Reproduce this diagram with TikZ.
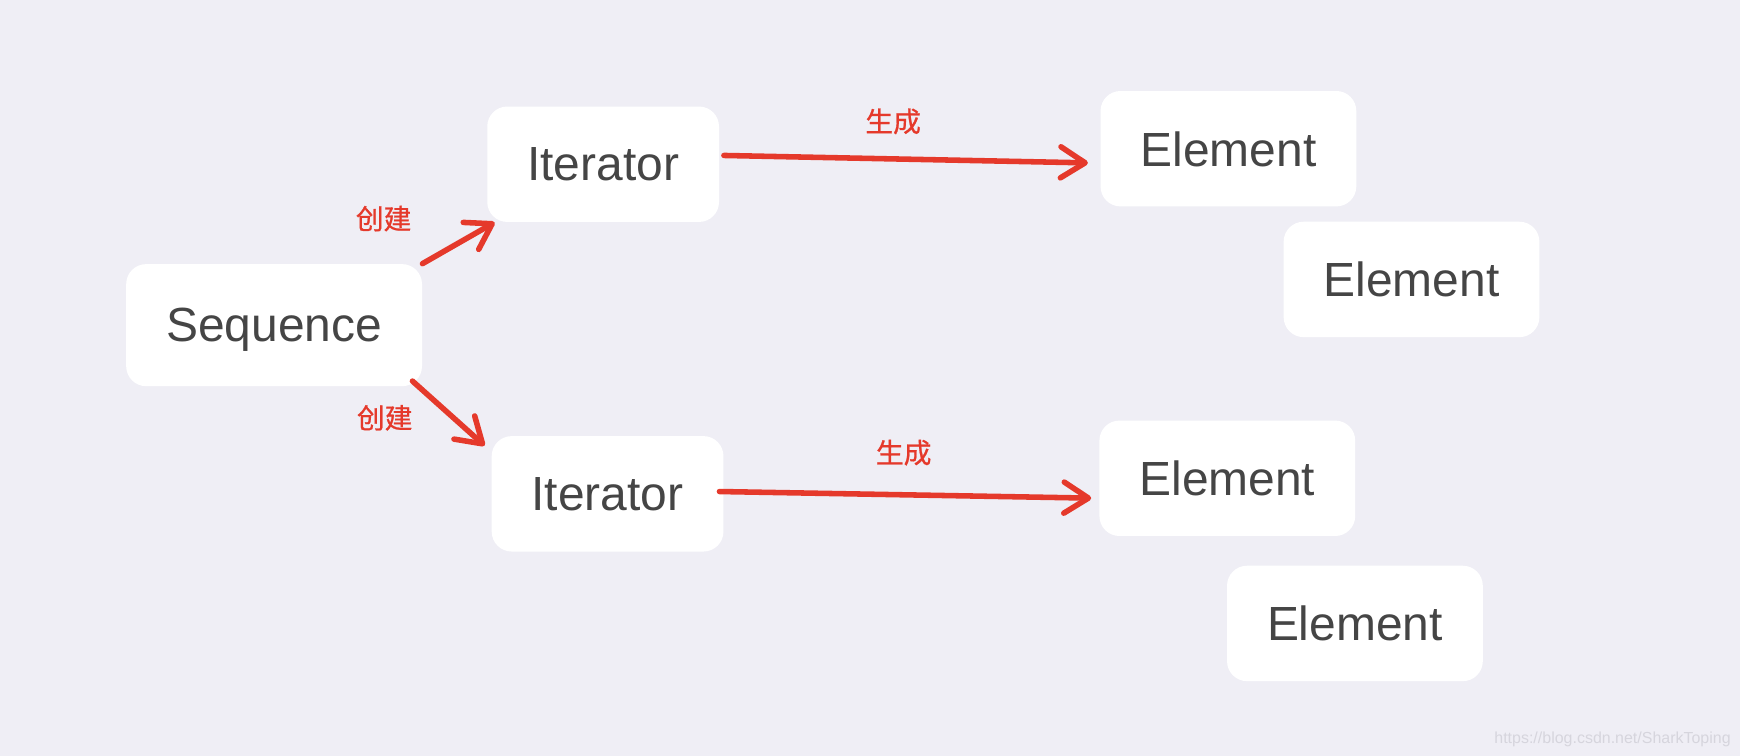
\documentclass[tikz,border=0pt]{standalone}
\usepackage{fontspec}
\setmainfont{Liberation Sans}
\newfontfamily\cjk{Noto Sans CJK SC}[FakeBold=0.8]
\usepackage{tikz}
\usetikzlibrary{arrows.meta, positioning, calc}
\definecolor{SeqBack}{HTML}{EFEEF5}
\definecolor{SeqText}{HTML}{454545}
\definecolor{SeqRed}{HTML}{E5392B}
\definecolor{SeqMark}{HTML}{D6D5DD}

\begin{document}
\begin{tikzpicture}[
  x=0.5pt, y=-0.5pt,
  box/.style={rectangle, fill=white, rounded corners=9pt, inner xsep=18pt, minimum height=52pt, text depth=0pt, align=center, text=SeqText, font=\fontsize{21.6}{26}\selectfont},
  tag/.style={inner sep=0pt, text=SeqRed, font=\cjk\fontsize{12.5}{14}\selectfont},
  link/.style={draw=SeqRed, line width=2.5pt, line cap=round, -{Straight Barb[round, length=11pt, width=14pt]}},
  wm/.style={inner sep=0pt, text=SeqMark, font=\fontsize{7.2}{8}\selectfont}
]
\fill[SeqBack] (0,0) rectangle (1568,681);
\useasboundingbox (0,0) rectangle (1568,681);

\node[box, minimum height=55pt] (Seq) at (247,293) {Sequence};
\node[box, right=29pt of Seq, yshift=72.5pt] (IterA) {Iterator};
\node[box, right=31pt of Seq, yshift=-76pt] (IterB) {Iterator};
\node[box, right=171.5pt of IterA, yshift=7pt] (ElemA) {Element};
\node[box, below=6.5pt of ElemA, xshift=82.5pt] (ElemB) {Element};
\node[box, right=169pt of IterB, yshift=7pt] (ElemC) {Element};
\node[box, below=13pt of ElemC, xshift=57.5pt] (ElemD) {Element};

\draw[link] (Seq.north east) -- node[tag, midway, above left=4pt and 20pt]{创建} ([xshift=3.5pt]IterA.south west);
\draw[link] ([xshift=-4.5pt,yshift=2.5pt]Seq.south east) -- node[tag, midway, left=15pt, yshift=-2pt]{创建} ([xshift=-3pt,yshift=-4.5pt]IterB.north west);
\draw[link, shorten <=2pt, shorten >=5.5pt] ([yshift=4pt]IterA.east) -- node[tag, midway, above=10pt, xshift=-7.5pt]{生成} ([yshift=-6.5pt]ElemA.west);
\draw[link, shorten <=-2pt, shorten >=3.5pt] ([yshift=1pt]IterB.east) -- node[tag, midway, above=12pt, xshift=-3.5pt]{生成} ([yshift=-9pt]ElemC.west);

\node[wm, anchor=south east] (Mark) at (1560,673) {https://blog.csdn.net/SharkToping};
\end{tikzpicture}
\end{document}
